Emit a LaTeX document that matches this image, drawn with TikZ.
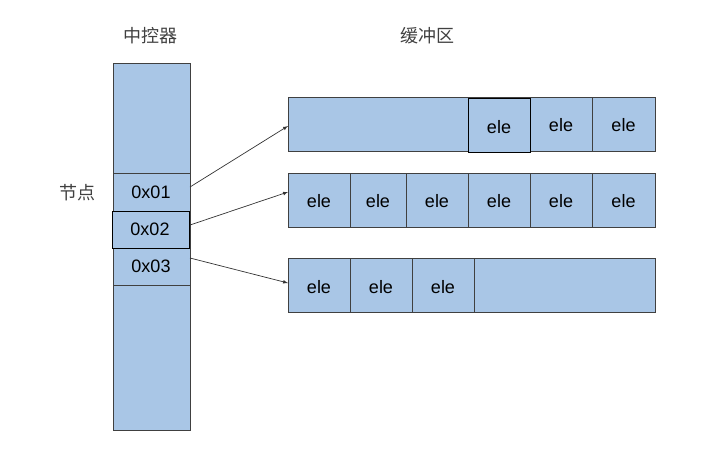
\documentclass[tikz,border=0pt]{standalone}
\usepackage{fontspec}
\setmainfont{Liberation Sans}
\newfontfamily\cjk{Noto Sans CJK SC}
\begin{document}
\begin{tikzpicture}[x=1pt,y=-1pt,
  cell/.style={draw=black!75,fill=blue!20!cyan!10!gray!30,fill={rgb,255:red,169;green,198;blue,230},line width=0.8pt},
  txt/.style={font=\fontsize{18}{20}\selectfont},
  lab/.style={font=\cjk\fontsize{18}{20}\selectfont,text=black!75},
  arr/.style={-latex,draw=black!80,line width=0.7pt}]
\useasboundingbox (0,0) rectangle (720,451);
% column
\draw[cell] (113,63) rectangle (190,430);
\draw[cell] (113,173) rectangle (190,211);
\draw[cell] (113,248) rectangle (190,285);
\draw[cell,draw=black] (112,211) rectangle (189,248);
\node[txt] (n1) at (151,192) {0x01};
\node[txt] (n2) at (150,229.5) {0x02};
\node[txt] (n3) at (151,266.5) {0x03};
\coordinate (s1) at (190,187);
\coordinate (s2) at (190,225);
\coordinate (s3) at (190,258);
% row 1
\draw[cell] (288,97) rectangle (655,151);
\foreach \a/\b in {530/592,592/655}{\draw[cell] (\a,97) rectangle (\b,151); \node[txt] at ({(\a+\b)/2},125) {ele};}
\draw[cell,draw=black] (468,98) rectangle (530,152);
\node[txt] at (499,127) {ele};
% row 2
\draw[cell] (288,173) rectangle (655,227);
\foreach \a/\b in {288/350,350/406,406/468,468/530,530/592,592/655}{\draw[cell] (\a,173) rectangle (\b,227); \node[txt] at ({(\a+\b)/2},201) {ele};}
% row 3
\draw[cell] (288,258) rectangle (655,312);
\foreach \a/\b in {288/350,350/412,412/474}{\draw[cell] (\a,258) rectangle (\b,312); \node[txt] at ({(\a+\b)/2},287) {ele};}
\coordinate (t1) at (288,126);
\coordinate (t2) at (288,192);
\coordinate (t3) at (288,283);
\draw[arr] (s1) -- (t1);
\draw[arr] (s2) -- (t2);
\draw[arr] (s3) -- (t3);
% labels
\node[lab] (l1) at (150,36) {中控器};
\node[lab] (l2) at (427,36) {缓冲区};
\node[lab] (l3) at (77,193) {节点};
\end{tikzpicture}
\end{document}
